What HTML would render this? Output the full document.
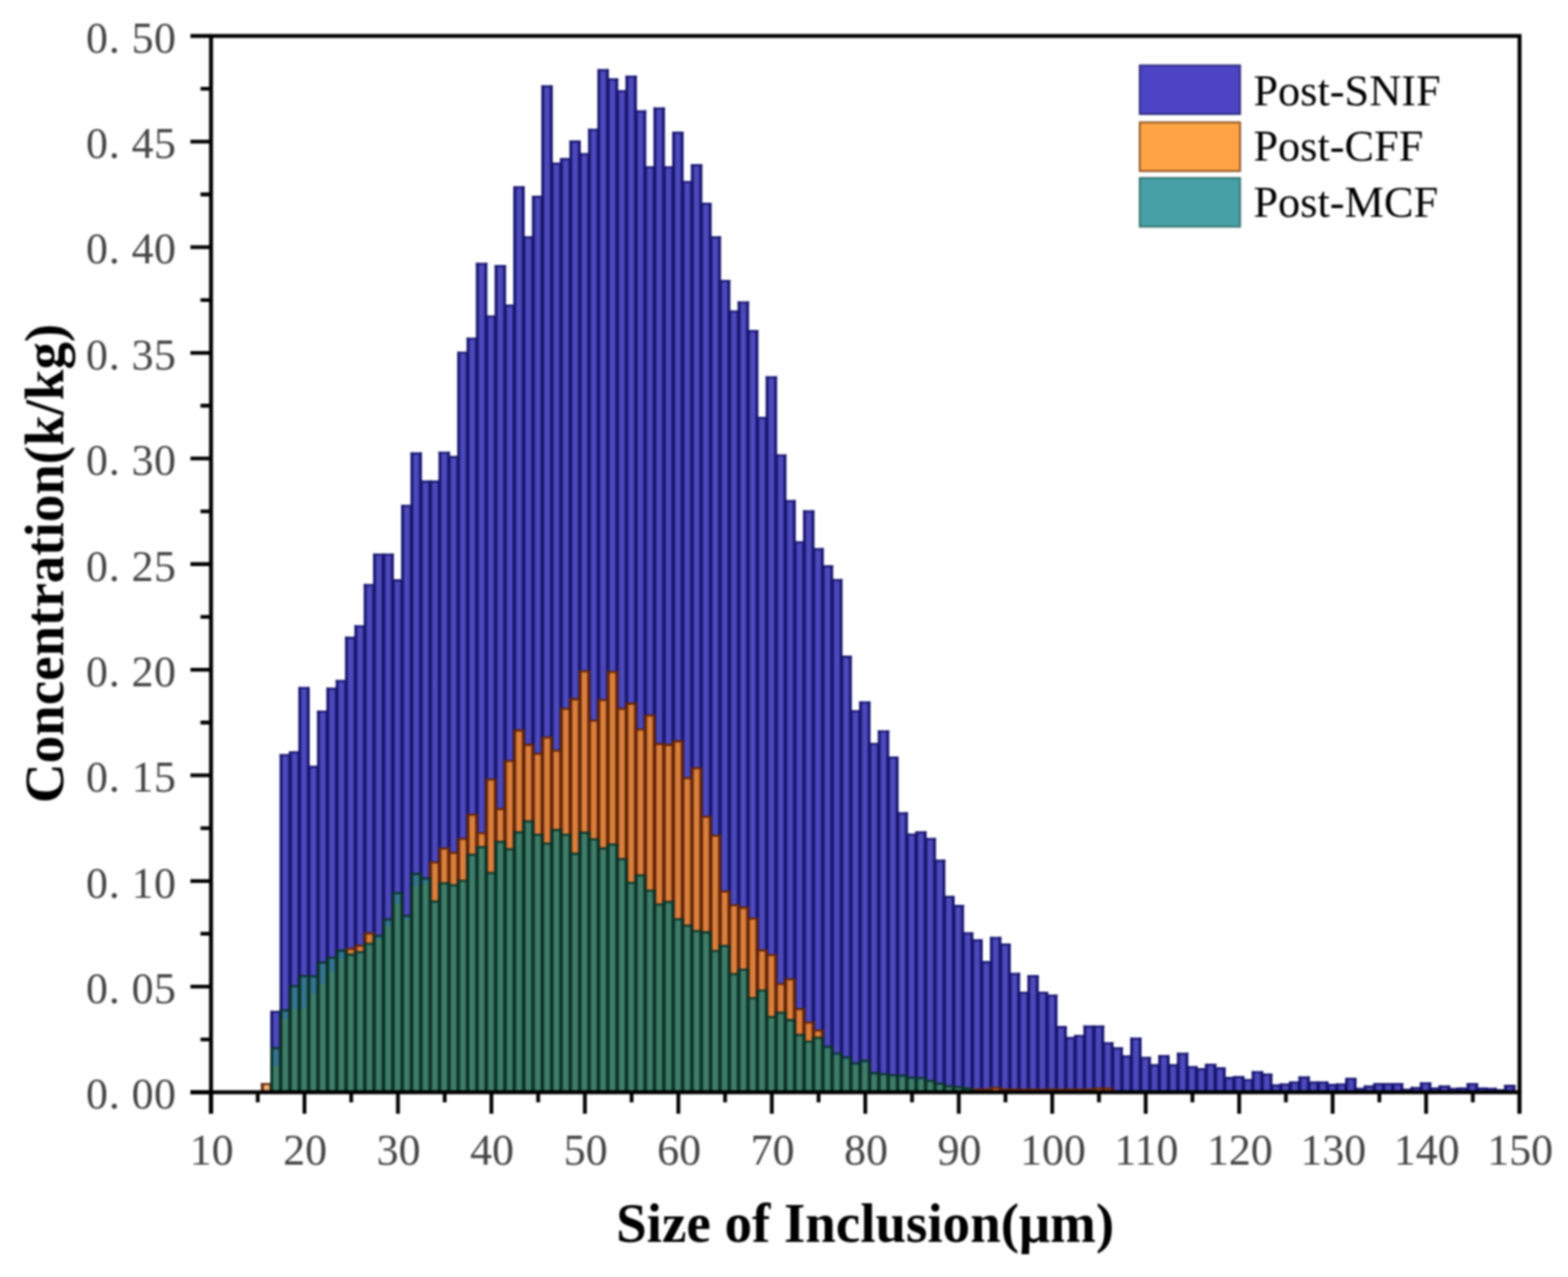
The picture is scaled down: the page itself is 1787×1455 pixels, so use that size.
<!DOCTYPE html>
<html lang="en">
<head>
<meta charset="utf-8">
<title>Inclusion size distribution</title>
<style>
html,body{margin:0;padding:0;background:#fff;}
body{width:1787px;height:1455px;overflow:hidden;}
svg{display:block;}
</style>
</head>
<body>
<svg width="1787" height="1455" viewBox="0 0 1787 1455">
<defs><filter id="soft" filterUnits="userSpaceOnUse" x="0" y="0" width="1787" height="1455" color-interpolation-filters="sRGB"><feGaussianBlur stdDeviation="0.85"/></filter></defs>
<rect width="1787" height="1455" fill="#fff"/>
<g filter="url(#soft)">
<rect width="1787" height="1455" fill="#fff"/>
<g id="bars">
<path d="M309.21 1244.5H319.86V1152.3H309.21ZM319.86 1244.5H330.51V859.8H319.86ZM330.51 1244.5H341.16V856.5H330.51ZM341.16 1244.5H351.81V783.4H341.16ZM351.81 1244.5H362.47V873.2H351.81ZM362.47 1244.5H373.12V810.3H362.47ZM373.12 1244.5H383.77V784.2H373.12ZM383.77 1244.5H394.42V775.3H383.77ZM394.42 1244.5H405.08V726.2H394.42ZM405.08 1244.5H415.73V713.1H405.08ZM415.73 1244.5H426.38V666.1H415.73ZM426.38 1244.5H437.03V631.3H426.38ZM437.03 1244.5H447.68V631.3H437.03ZM447.68 1244.5H458.34V660.7H447.68ZM458.34 1244.5H468.99V575.9H458.34ZM468.99 1244.5H479.64V516.2H468.99ZM479.64 1244.5H490.29V548.2H479.64ZM490.29 1244.5H500.94V548.2H490.29ZM500.94 1244.5H511.6V515.4H500.94ZM511.6 1244.5H522.25V520.2H511.6ZM522.25 1244.5H532.9V401.3H522.25ZM532.9 1244.5H543.55V385.3H532.9ZM543.55 1244.5H554.21V300H543.55ZM554.21 1244.5H564.86V360.1H554.21ZM564.86 1244.5H575.51V302.6H564.86ZM575.51 1244.5H586.16V347.6H575.51ZM586.16 1244.5H596.81V212.8H586.16ZM596.81 1244.5H607.47V269.8H596.81ZM607.47 1244.5H618.12V223.7H607.47ZM618.12 1244.5H628.77V97.8H618.12ZM628.77 1244.5H639.42V185.9H628.77ZM639.42 1244.5H650.07V180.5H639.42ZM650.07 1244.5H660.73V160.7H650.07ZM660.73 1244.5H671.38V175H660.73ZM671.38 1244.5H682.03V147.3H671.38ZM682.03 1244.5H692.68V79.3H682.03ZM692.68 1244.5H703.34V89.9H692.68ZM703.34 1244.5H713.99V103.3H703.34ZM713.99 1244.5H724.64V86.9H713.99ZM724.64 1244.5H735.29V126.3H724.64ZM735.29 1244.5H745.94V190.1H735.29ZM745.94 1244.5H756.6V123H745.94ZM756.6 1244.5H767.25V190.1H756.6ZM767.25 1244.5H777.9V150.6H767.25ZM777.9 1244.5H788.55V206.9H777.9ZM788.55 1244.5H799.2V187.6H788.55ZM799.2 1244.5H809.86V231.6H799.2ZM809.86 1244.5H820.51V269.8H809.86ZM820.51 1244.5H831.16V319.5H820.51ZM831.16 1244.5H841.81V354.4H831.16ZM841.81 1244.5H852.47V344H841.81ZM852.47 1244.5H863.12V376.6H852.47ZM863.12 1244.5H873.77V475.5H863.12ZM873.77 1244.5H884.42V429.4H873.77ZM884.42 1244.5H895.07V518.3H884.42ZM895.07 1244.5H905.73V570.4H895.07ZM905.73 1244.5H916.38V617.4H905.73ZM916.38 1244.5H927.03V582.1H916.38ZM927.03 1244.5H937.68V625H927.03ZM937.68 1244.5H948.33V644.5H937.68ZM948.33 1244.5H958.99V660.4H948.33ZM958.99 1244.5H969.64V747.7H958.99ZM969.64 1244.5H980.29V809.8H969.64ZM980.29 1244.5H990.94V799.8H980.29ZM990.94 1244.5H1001.6V847.1H990.94ZM1001.6 1244.5H1012.25V832.8H1001.6ZM1012.25 1244.5H1022.9V862.5H1012.25ZM1022.9 1244.5H1033.55V926H1022.9ZM1033.55 1244.5H1044.2V950.3H1033.55ZM1044.2 1244.5H1054.86V947.8H1044.2ZM1054.86 1244.5H1065.51V955.4H1054.86ZM1065.51 1244.5H1076.16V980.2H1065.51ZM1076.16 1244.5H1086.81V1021.3H1076.16ZM1086.81 1244.5H1097.46V1031.7H1086.81ZM1097.46 1244.5H1108.12V1062.9H1097.46ZM1108.12 1244.5H1118.77V1070.8H1108.12ZM1118.77 1244.5H1129.42V1095.7H1118.77ZM1129.42 1244.5H1140.07V1068H1129.42ZM1140.07 1244.5H1150.73V1075.5H1140.07ZM1150.73 1244.5H1161.38V1109.1H1150.73ZM1161.38 1244.5H1172.03V1130.6H1161.38ZM1172.03 1244.5H1182.68V1111.6H1172.03ZM1182.68 1244.5H1193.33V1130.6H1182.68ZM1193.33 1244.5H1203.99V1133.9H1193.33ZM1203.99 1244.5H1214.64V1169.5H1203.99ZM1214.64 1244.5H1225.29V1182.1H1214.64ZM1225.29 1244.5H1235.94V1179.9H1225.29ZM1235.94 1244.5H1246.59V1169.2H1235.94ZM1246.59 1244.5H1257.25V1169.2H1246.59ZM1257.25 1244.5H1267.9V1188H1257.25ZM1267.9 1244.5H1278.55V1193.9H1267.9ZM1278.55 1244.5H1289.2V1203.1H1278.55ZM1289.2 1244.5H1299.86V1182.9H1289.2ZM1299.86 1244.5H1310.51V1204.8H1299.86ZM1310.51 1244.5H1321.16V1213.2H1310.51ZM1321.16 1244.5H1331.81V1202.8H1321.16ZM1331.81 1244.5H1342.46V1213.2H1331.81ZM1342.46 1244.5H1353.12V1200H1342.46ZM1353.12 1244.5H1363.77V1215.4H1353.12ZM1363.77 1244.5H1374.42V1217.6H1363.77ZM1374.42 1244.5H1385.07V1212.6H1374.42ZM1385.07 1244.5H1395.72V1216.5H1385.07ZM1395.72 1244.5H1406.38V1227.7H1395.72ZM1406.38 1244.5H1417.03V1226.6H1406.38ZM1417.03 1244.5H1427.68V1230H1417.03ZM1427.68 1244.5H1438.33V1221H1427.68ZM1438.33 1244.5H1448.99V1223.8H1438.33ZM1448.99 1244.5H1459.64V1236.1H1448.99ZM1459.64 1244.5H1470.29V1235H1459.64ZM1470.29 1244.5H1480.94V1232.8H1470.29ZM1480.94 1244.5H1491.59V1227.2H1480.94ZM1491.59 1244.5H1502.25V1232.8H1491.59ZM1502.25 1244.5H1512.9V1232.8H1502.25ZM1512.9 1244.5H1523.55V1235.6H1512.9ZM1523.55 1244.5H1534.2V1235H1523.55ZM1534.2 1244.5H1544.85V1228.5H1534.2ZM1544.85 1244.5H1555.51V1240H1544.85ZM1555.51 1244.5H1566.16V1237.3H1555.51ZM1566.16 1244.5H1576.81V1234.5H1566.16ZM1576.81 1244.5H1587.46V1234.5H1576.81ZM1587.46 1244.5H1598.12V1234.5H1587.46ZM1598.12 1244.5H1608.77V1241H1598.12ZM1608.77 1244.5H1619.42V1239H1608.77ZM1619.42 1244.5H1630.07V1233.9H1619.42ZM1630.07 1244.5H1640.72V1239.5H1630.07ZM1640.72 1244.5H1651.38V1237.3H1640.72ZM1651.38 1244.5H1662.03V1240H1651.38ZM1662.03 1244.5H1672.68V1239.5H1662.03ZM1672.68 1244.5H1683.33V1234.5H1672.68ZM1683.33 1244.5H1693.98V1239.5H1683.33ZM1693.98 1244.5H1704.64V1240H1693.98ZM1704.64 1244.5H1715.29V1241.7H1704.64ZM1715.29 1244.5H1725.94V1236.7H1715.29Z" fill="#4d49ba"/>
<path d="M309.66 1244.5V1151.7M319.41 1244.5V1151.7M320.31 1244.5V859.2M330.06 1244.5V859.2M330.96 1244.5V855.9M340.71 1244.5V855.9M341.61 1244.5V782.8M351.36 1244.5V782.8M352.26 1244.5V872.6M362.02 1244.5V872.6M362.92 1244.5V809.7M372.67 1244.5V809.7M373.57 1244.5V783.6M383.32 1244.5V783.6M384.22 1244.5V774.7M393.97 1244.5V774.7M394.87 1244.5V725.6M404.63 1244.5V725.6M405.53 1244.5V712.5M415.28 1244.5V712.5M416.18 1244.5V665.5M425.93 1244.5V665.5M426.83 1244.5V630.7M436.58 1244.5V630.7M437.48 1244.5V630.7M447.23 1244.5V630.7M448.13 1244.5V660.1M457.89 1244.5V660.1M458.79 1244.5V575.3M468.54 1244.5V575.3M469.44 1244.5V515.6M479.19 1244.5V515.6M480.09 1244.5V547.6M489.84 1244.5V547.6M490.74 1244.5V547.6M500.49 1244.5V547.6M501.39 1244.5V514.8M511.15 1244.5V514.8M512.05 1244.5V519.6M521.8 1244.5V519.6M522.7 1244.5V400.7M532.45 1244.5V400.7M533.35 1244.5V384.7M543.1 1244.5V384.7M544 1244.5V299.4M553.76 1244.5V299.4M554.66 1244.5V359.5M564.41 1244.5V359.5M565.31 1244.5V302M575.06 1244.5V302M575.96 1244.5V347M585.71 1244.5V347M586.61 1244.5V212.2M596.36 1244.5V212.2M597.26 1244.5V269.2M607.02 1244.5V269.2M607.92 1244.5V223.1M617.67 1244.5V223.1M618.57 1244.5V97.2M628.32 1244.5V97.2M629.22 1244.5V185.3M638.97 1244.5V185.3M639.87 1244.5V179.9M649.62 1244.5V179.9M650.52 1244.5V160.1M660.28 1244.5V160.1M661.18 1244.5V174.4M670.93 1244.5V174.4M671.83 1244.5V146.7M681.58 1244.5V146.7M682.48 1244.5V78.7M692.23 1244.5V78.7M693.13 1244.5V89.3M702.89 1244.5V89.3M703.79 1244.5V102.7M713.54 1244.5V102.7M714.44 1244.5V86.3M724.19 1244.5V86.3M725.09 1244.5V125.7M734.84 1244.5V125.7M735.74 1244.5V189.5M745.49 1244.5V189.5M746.39 1244.5V122.4M756.15 1244.5V122.4M757.05 1244.5V189.5M766.8 1244.5V189.5M767.7 1244.5V150M777.45 1244.5V150M778.35 1244.5V206.3M788.1 1244.5V206.3M789 1244.5V187M798.75 1244.5V187M799.65 1244.5V231M809.41 1244.5V231M810.31 1244.5V269.2M820.06 1244.5V269.2M820.96 1244.5V318.9M830.71 1244.5V318.9M831.61 1244.5V353.8M841.36 1244.5V353.8M842.26 1244.5V343.4M852.02 1244.5V343.4M852.92 1244.5V376M862.67 1244.5V376M863.57 1244.5V474.9M873.32 1244.5V474.9M874.22 1244.5V428.8M883.97 1244.5V428.8M884.87 1244.5V517.7M894.62 1244.5V517.7M895.52 1244.5V569.8M905.28 1244.5V569.8M906.18 1244.5V616.8M915.93 1244.5V616.8M916.83 1244.5V581.5M926.58 1244.5V581.5M927.48 1244.5V624.4M937.23 1244.5V624.4M938.13 1244.5V643.9M947.88 1244.5V643.9M948.78 1244.5V659.8M958.54 1244.5V659.8M959.44 1244.5V747.1M969.19 1244.5V747.1M970.09 1244.5V809.2M979.84 1244.5V809.2M980.74 1244.5V799.2M990.49 1244.5V799.2M991.39 1244.5V846.5M1001.15 1244.5V846.5M1002.05 1244.5V832.2M1011.8 1244.5V832.2M1012.7 1244.5V861.9M1022.45 1244.5V861.9M1023.35 1244.5V925.4M1033.1 1244.5V925.4M1034 1244.5V949.7M1043.75 1244.5V949.7M1044.65 1244.5V947.2M1054.41 1244.5V947.2M1055.31 1244.5V954.8M1065.06 1244.5V954.8M1065.96 1244.5V979.6M1075.71 1244.5V979.6M1076.61 1244.5V1020.7M1086.36 1244.5V1020.7M1087.26 1244.5V1031.1M1097.01 1244.5V1031.1M1097.91 1244.5V1062.3M1107.67 1244.5V1062.3M1108.57 1244.5V1070.2M1118.32 1244.5V1070.2M1119.22 1244.5V1095.1M1128.97 1244.5V1095.1M1129.87 1244.5V1067.4M1139.62 1244.5V1067.4M1140.52 1244.5V1074.9M1150.28 1244.5V1074.9M1151.18 1244.5V1108.5M1160.93 1244.5V1108.5M1161.83 1244.5V1130M1171.58 1244.5V1130M1172.48 1244.5V1111M1182.23 1244.5V1111M1183.13 1244.5V1130M1192.88 1244.5V1130M1193.78 1244.5V1133.3M1203.54 1244.5V1133.3M1204.44 1244.5V1168.9M1214.19 1244.5V1168.9M1215.09 1244.5V1181.5M1224.84 1244.5V1181.5M1225.74 1244.5V1179.3M1235.49 1244.5V1179.3M1236.39 1244.5V1168.6M1246.14 1244.5V1168.6M1247.04 1244.5V1168.6M1256.8 1244.5V1168.6M1257.7 1244.5V1187.4M1267.45 1244.5V1187.4M1268.35 1244.5V1193.3M1278.1 1244.5V1193.3M1279 1244.5V1202.5M1288.75 1244.5V1202.5M1289.65 1244.5V1182.3M1299.41 1244.5V1182.3M1300.31 1244.5V1204.2M1310.06 1244.5V1204.2M1310.96 1244.5V1212.6M1320.71 1244.5V1212.6M1321.61 1244.5V1202.2M1331.36 1244.5V1202.2M1332.26 1244.5V1212.6M1342.01 1244.5V1212.6M1342.91 1244.5V1199.4M1352.67 1244.5V1199.4M1353.57 1244.5V1214.8M1363.32 1244.5V1214.8M1364.22 1244.5V1217M1373.97 1244.5V1217M1374.87 1244.5V1212M1384.62 1244.5V1212M1385.52 1244.5V1215.9M1395.27 1244.5V1215.9M1396.17 1244.5V1227.1M1405.93 1244.5V1227.1M1406.83 1244.5V1226M1416.58 1244.5V1226M1417.48 1244.5V1229.4M1427.23 1244.5V1229.4M1428.13 1244.5V1220.4M1437.88 1244.5V1220.4M1438.78 1244.5V1223.2M1448.54 1244.5V1223.2M1449.44 1244.5V1235.5M1459.19 1244.5V1235.5M1460.09 1244.5V1234.4M1469.84 1244.5V1234.4M1470.74 1244.5V1232.2M1480.49 1244.5V1232.2M1481.39 1244.5V1226.6M1491.14 1244.5V1226.6M1492.04 1244.5V1232.2M1501.8 1244.5V1232.2M1502.7 1244.5V1232.2M1512.45 1244.5V1232.2M1513.35 1244.5V1235M1523.1 1244.5V1235M1524 1244.5V1234.4M1533.75 1244.5V1234.4M1534.65 1244.5V1227.9M1544.4 1244.5V1227.9M1545.3 1244.5V1239.4M1555.06 1244.5V1239.4M1555.96 1244.5V1236.7M1565.71 1244.5V1236.7M1566.61 1244.5V1233.9M1576.36 1244.5V1233.9M1577.26 1244.5V1233.9M1587.01 1244.5V1233.9M1587.91 1244.5V1233.9M1597.67 1244.5V1233.9M1598.57 1244.5V1240.4M1608.32 1244.5V1240.4M1609.22 1244.5V1238.4M1618.97 1244.5V1238.4M1619.87 1244.5V1233.3M1629.62 1244.5V1233.3M1630.52 1244.5V1238.9M1640.27 1244.5V1238.9M1641.17 1244.5V1236.7M1650.93 1244.5V1236.7M1651.83 1244.5V1239.4M1661.58 1244.5V1239.4M1662.48 1244.5V1238.9M1672.23 1244.5V1238.9M1673.13 1244.5V1233.9M1682.88 1244.5V1233.9M1683.78 1244.5V1238.9M1693.53 1244.5V1238.9M1694.43 1244.5V1239.4M1704.19 1244.5V1239.4M1705.09 1244.5V1241.1M1714.84 1244.5V1241.1M1715.74 1244.5V1236.1M1725.49 1244.5V1236.1" fill="none" stroke="#181670" stroke-width="3.3"/>
<path d="M308.01 1152.85H321.06M318.66 860.35H331.71M329.31 857.05H342.36M339.96 783.95H353.01M350.61 873.75H363.67M361.27 810.85H374.32M371.92 784.75H384.97M382.57 775.85H395.62M393.22 726.75H406.28M403.88 713.65H416.93M414.53 666.65H427.58M425.18 631.85H438.23M435.83 631.85H448.88M446.48 661.25H459.54M457.14 576.45H470.19M467.79 516.75H480.84M478.44 548.75H491.49M489.09 548.75H502.14M499.74 515.95H512.8M510.4 520.75H523.45M521.05 401.85H534.1M531.7 385.85H544.75M542.35 300.55H555.41M553.01 360.65H566.06M563.66 303.15H576.71M574.31 348.15H587.36M584.96 213.35H598.01M595.61 270.35H608.67M606.27 224.25H619.32M616.92 98.35H629.97M627.57 186.45H640.62M638.22 181.05H651.27M648.87 161.25H661.93M659.53 175.55H672.58M670.18 147.85H683.23M680.83 79.85H693.88M691.48 90.45H704.54M702.14 103.85H715.19M712.79 87.45H725.84M723.44 126.85H736.49M734.09 190.65H747.14M744.74 123.55H757.8M755.4 190.65H768.45M766.05 151.15H779.1M776.7 207.45H789.75M787.35 188.15H800.4M798 232.15H811.06M808.66 270.35H821.71M819.31 320.05H832.36M829.96 354.95H843.01M840.61 344.55H853.67M851.27 377.15H864.32M861.92 476.05H874.97M872.57 429.95H885.62M883.22 518.85H896.27M893.87 570.95H906.93M904.53 617.95H917.58M915.18 582.65H928.23M925.83 625.55H938.88M936.48 645.05H949.53M947.13 660.95H960.19M957.79 748.25H970.84M968.44 810.35H981.49M979.09 800.35H992.14M989.74 847.65H1002.8M1000.4 833.35H1013.45M1011.05 863.05H1024.1M1021.7 926.55H1034.75M1032.35 950.85H1045.4M1043 948.35H1056.06M1053.66 955.95H1066.71M1064.31 980.75H1077.36M1074.96 1021.85H1088.01M1085.61 1032.25H1098.66M1096.26 1063.45H1109.32M1106.92 1071.35H1119.97M1117.57 1096.25H1130.62M1128.22 1068.55H1141.27M1138.87 1076.05H1151.93M1149.53 1109.65H1162.58M1160.18 1131.15H1173.23M1170.83 1112.15H1183.88M1181.48 1131.15H1194.53M1192.13 1134.45H1205.19M1202.79 1170.05H1215.84M1213.44 1182.65H1226.49M1224.09 1180.45H1237.14M1234.74 1169.75H1247.79M1245.39 1169.75H1258.45M1256.05 1188.55H1269.1M1266.7 1194.45H1279.75M1277.35 1203.65H1290.4M1288 1183.45H1301.06M1298.66 1205.35H1311.71M1309.31 1213.75H1322.36M1319.96 1203.35H1333.01M1330.61 1213.75H1343.66M1341.26 1200.55H1354.32M1351.92 1215.95H1364.97M1362.57 1218.15H1375.62M1373.22 1213.15H1386.27M1383.87 1217.05H1396.92M1394.52 1228.25H1407.58M1405.18 1227.15H1418.23M1415.83 1230.55H1428.88M1426.48 1221.55H1439.53M1437.13 1224.35H1450.19M1447.79 1236.65H1460.84M1458.44 1235.55H1471.49M1469.09 1233.35H1482.14M1479.74 1227.75H1492.79M1490.39 1233.35H1503.45M1501.05 1233.35H1514.1M1511.7 1236.15H1524.75M1522.35 1235.55H1535.4M1533 1229.05H1546.05M1543.65 1240.55H1556.71M1554.31 1237.85H1567.36M1564.96 1235.05H1578.01M1575.61 1235.05H1588.66M1586.26 1235.05H1599.32M1596.92 1241.55H1609.97M1607.57 1239.55H1620.62M1618.22 1234.45H1631.27M1628.87 1240.05H1641.92M1639.52 1237.85H1652.58M1650.18 1240.55H1663.23M1660.83 1240.05H1673.88M1671.48 1235.05H1684.53M1682.13 1240.05H1695.18M1692.78 1240.55H1705.84M1703.44 1242.25H1716.49M1714.09 1237.25H1727.14" fill="none" stroke="#181670" stroke-width="2.3"/>
<path d="M298.55 1244.5H309.21V1234.5H298.55ZM309.21 1244.5H319.86V1215H309.21ZM319.86 1244.5H330.51V1161H319.86ZM330.51 1244.5H341.16V1150H330.51ZM341.16 1244.5H351.81V1148H341.16ZM351.81 1244.5H362.47V1132H351.81ZM362.47 1244.5H373.12V1121H362.47ZM373.12 1244.5H383.77V1107H373.12ZM383.77 1244.5H394.42V1093H383.77ZM394.42 1244.5H405.08V1080.5H394.42ZM405.08 1244.5H415.73V1077H405.08ZM415.73 1244.5H426.38V1063.1H415.73ZM426.38 1244.5H437.03V1070H426.38ZM437.03 1244.5H447.68V1055H437.03ZM447.68 1244.5H458.34V1030H447.68ZM458.34 1244.5H468.99V1048H458.34ZM468.99 1244.5H479.64V1010H468.99ZM479.64 1244.5H490.29V1006H479.64ZM490.29 1244.5H500.94V982H490.29ZM500.94 1244.5H511.6V966.4H500.94ZM511.6 1244.5H522.25V971.4H511.6ZM522.25 1244.5H532.9V955.3H522.25ZM532.9 1244.5H543.55V927.7H532.9ZM543.55 1244.5H554.21V948.8H543.55ZM554.21 1244.5H564.86V887.6H554.21ZM564.86 1244.5H575.51V921.2H564.86ZM575.51 1244.5H586.16V866.6H575.51ZM586.16 1244.5H596.81V831.7H586.16ZM596.81 1244.5H607.47V848.2H596.81ZM607.47 1244.5H618.12V858.3H607.47ZM618.12 1244.5H628.77V839.8H618.12ZM628.77 1244.5H639.42V854.9H628.77ZM639.42 1244.5H650.07V807.1H639.42ZM650.07 1244.5H660.73V796.2H650.07ZM660.73 1244.5H671.38V764.3H660.73ZM671.38 1244.5H682.03V820.5H671.38ZM682.03 1244.5H692.68V797H682.03ZM692.68 1244.5H703.34V765.1H692.68ZM703.34 1244.5H713.99V807.1H703.34ZM713.99 1244.5H724.64V801.2H713.99ZM724.64 1244.5H735.29V830.6H724.64ZM735.29 1244.5H745.94V814.6H735.29ZM745.94 1244.5H756.6V847.2H745.94ZM756.6 1244.5H767.25V848.2H756.6ZM767.25 1244.5H777.9V844.2H767.25ZM777.9 1244.5H788.55V886.1H777.9ZM788.55 1244.5H799.2V874.9H788.55ZM799.2 1244.5H809.86V930H799.2ZM809.86 1244.5H820.51V951.6H809.86ZM820.51 1244.5H831.16V1015.3H820.51ZM831.16 1244.5H841.81V1030.9H831.16ZM841.81 1244.5H852.47V1033.7H841.81ZM852.47 1244.5H863.12V1046H852.47ZM863.12 1244.5H873.77V1082.4H863.12ZM873.77 1244.5H884.42V1087.5H873.77ZM884.42 1244.5H895.07V1120.6H884.42ZM895.07 1244.5H905.73V1115.3H895.07ZM905.73 1244.5H916.38V1149.3H905.73ZM916.38 1244.5H927.03V1164.5H916.38ZM927.03 1244.5H937.68V1173.5H927.03ZM937.68 1244.5H948.33V1195H937.68ZM948.33 1244.5H958.99V1203H948.33ZM958.99 1244.5H969.64V1208H958.99ZM969.64 1244.5H980.29V1214H969.64ZM980.29 1244.5H990.94V1212H980.29ZM990.94 1244.5H1001.6V1225H990.94ZM1001.6 1244.5H1012.25V1226H1001.6ZM1012.25 1244.5H1022.9V1227H1012.25ZM1022.9 1244.5H1033.55V1228H1022.9ZM1033.55 1244.5H1044.2V1230H1033.55ZM1044.2 1244.5H1054.86V1231H1044.2ZM1054.86 1244.5H1065.51V1233H1054.86ZM1065.51 1244.5H1076.16V1236H1065.51ZM1076.16 1244.5H1086.81V1238H1076.16ZM1086.81 1244.5H1097.46V1239H1086.81ZM1097.46 1244.5H1108.12V1241H1097.46ZM1108.12 1244.5H1118.77V1240.8H1108.12ZM1118.77 1244.5H1129.42V1240.8H1118.77ZM1129.42 1244.5H1140.07V1239H1129.42ZM1140.07 1244.5H1150.73V1240.8H1140.07ZM1150.73 1244.5H1161.38V1240.8H1150.73ZM1161.38 1244.5H1172.03V1241H1161.38ZM1172.03 1244.5H1182.68V1240.8H1172.03ZM1182.68 1244.5H1193.33V1241H1182.68ZM1193.33 1244.5H1203.99V1240.8H1193.33ZM1203.99 1244.5H1214.64V1241H1203.99ZM1214.64 1244.5H1225.29V1240.8H1214.64ZM1225.29 1244.5H1235.94V1240.8H1225.29ZM1235.94 1244.5H1246.59V1240.8H1235.94ZM1246.59 1244.5H1257.25V1239.8H1246.59ZM1257.25 1244.5H1267.9V1239.8H1257.25Z" fill="#da803e"/>
<path d="M298.55 1244.5H309.21V1234.5H298.55Z" fill="#e9b27a"/>
<path d="M299 1244.5V1233.9M308.76 1244.5V1233.9M309.66 1244.5V1214.4M319.41 1244.5V1214.4M320.31 1244.5V1160.4M330.06 1244.5V1160.4M330.96 1244.5V1149.4M340.71 1244.5V1149.4M341.61 1244.5V1147.4M351.36 1244.5V1147.4M352.26 1244.5V1131.4M362.02 1244.5V1131.4M362.92 1244.5V1120.4M372.67 1244.5V1120.4M373.57 1244.5V1106.4M383.32 1244.5V1106.4M384.22 1244.5V1092.4M393.97 1244.5V1092.4M394.87 1244.5V1079.9M404.63 1244.5V1079.9M405.53 1244.5V1076.4M415.28 1244.5V1076.4M416.18 1244.5V1062.5M425.93 1244.5V1062.5M426.83 1244.5V1069.4M436.58 1244.5V1069.4M437.48 1244.5V1054.4M447.23 1244.5V1054.4M448.13 1244.5V1029.4M457.89 1244.5V1029.4M458.79 1244.5V1047.4M468.54 1244.5V1047.4M469.44 1244.5V1009.4M479.19 1244.5V1009.4M480.09 1244.5V1005.4M489.84 1244.5V1005.4M490.74 1244.5V981.4M500.49 1244.5V981.4M501.39 1244.5V965.8M511.15 1244.5V965.8M512.05 1244.5V970.8M521.8 1244.5V970.8M522.7 1244.5V954.7M532.45 1244.5V954.7M533.35 1244.5V927.1M543.1 1244.5V927.1M544 1244.5V948.2M553.76 1244.5V948.2M554.66 1244.5V887M564.41 1244.5V887M565.31 1244.5V920.6M575.06 1244.5V920.6M575.96 1244.5V866M585.71 1244.5V866M586.61 1244.5V831.1M596.36 1244.5V831.1M597.26 1244.5V847.6M607.02 1244.5V847.6M607.92 1244.5V857.7M617.67 1244.5V857.7M618.57 1244.5V839.2M628.32 1244.5V839.2M629.22 1244.5V854.3M638.97 1244.5V854.3M639.87 1244.5V806.5M649.62 1244.5V806.5M650.52 1244.5V795.6M660.28 1244.5V795.6M661.18 1244.5V763.7M670.93 1244.5V763.7M671.83 1244.5V819.9M681.58 1244.5V819.9M682.48 1244.5V796.4M692.23 1244.5V796.4M693.13 1244.5V764.5M702.89 1244.5V764.5M703.79 1244.5V806.5M713.54 1244.5V806.5M714.44 1244.5V800.6M724.19 1244.5V800.6M725.09 1244.5V830M734.84 1244.5V830M735.74 1244.5V814M745.49 1244.5V814M746.39 1244.5V846.6M756.15 1244.5V846.6M757.05 1244.5V847.6M766.8 1244.5V847.6M767.7 1244.5V843.6M777.45 1244.5V843.6M778.35 1244.5V885.5M788.1 1244.5V885.5M789 1244.5V874.3M798.75 1244.5V874.3M799.65 1244.5V929.4M809.41 1244.5V929.4M810.31 1244.5V951M820.06 1244.5V951M820.96 1244.5V1014.7M830.71 1244.5V1014.7M831.61 1244.5V1030.3M841.36 1244.5V1030.3M842.26 1244.5V1033.1M852.02 1244.5V1033.1M852.92 1244.5V1045.4M862.67 1244.5V1045.4M863.57 1244.5V1081.8M873.32 1244.5V1081.8M874.22 1244.5V1086.9M883.97 1244.5V1086.9M884.87 1244.5V1120M894.62 1244.5V1120M895.52 1244.5V1114.7M905.28 1244.5V1114.7M906.18 1244.5V1148.7M915.93 1244.5V1148.7M916.83 1244.5V1163.9M926.58 1244.5V1163.9M927.48 1244.5V1172.9M937.23 1244.5V1172.9M938.13 1244.5V1194.4M947.88 1244.5V1194.4M948.78 1244.5V1202.4M958.54 1244.5V1202.4M959.44 1244.5V1207.4M969.19 1244.5V1207.4M970.09 1244.5V1213.4M979.84 1244.5V1213.4M980.74 1244.5V1211.4M990.49 1244.5V1211.4M991.39 1244.5V1224.4M1001.15 1244.5V1224.4M1002.05 1244.5V1225.4M1011.8 1244.5V1225.4M1012.7 1244.5V1226.4M1022.45 1244.5V1226.4M1023.35 1244.5V1227.4M1033.1 1244.5V1227.4M1034 1244.5V1229.4M1043.75 1244.5V1229.4M1044.65 1244.5V1230.4M1054.41 1244.5V1230.4M1055.31 1244.5V1232.4M1065.06 1244.5V1232.4M1065.96 1244.5V1235.4M1075.71 1244.5V1235.4M1076.61 1244.5V1237.4M1086.36 1244.5V1237.4M1087.26 1244.5V1238.4M1097.01 1244.5V1238.4M1097.91 1244.5V1240.4M1107.67 1244.5V1240.4M1108.57 1244.5V1240.2M1118.32 1244.5V1240.2M1119.22 1244.5V1240.2M1128.97 1244.5V1240.2M1129.87 1244.5V1238.4M1139.62 1244.5V1238.4M1140.52 1244.5V1240.2M1150.28 1244.5V1240.2M1151.18 1244.5V1240.2M1160.93 1244.5V1240.2M1161.83 1244.5V1240.4M1171.58 1244.5V1240.4M1172.48 1244.5V1240.2M1182.23 1244.5V1240.2M1183.13 1244.5V1240.4M1192.88 1244.5V1240.4M1193.78 1244.5V1240.2M1203.54 1244.5V1240.2M1204.44 1244.5V1240.4M1214.19 1244.5V1240.4M1215.09 1244.5V1240.2M1224.84 1244.5V1240.2M1225.74 1244.5V1240.2M1235.49 1244.5V1240.2M1236.39 1244.5V1240.2M1246.14 1244.5V1240.2M1247.04 1244.5V1239.2M1256.8 1244.5V1239.2M1257.7 1244.5V1239.2M1267.45 1244.5V1239.2" fill="none" stroke="#642506" stroke-width="3.3"/>
<path d="M297.35 1235.05H310.41M308.01 1215.55H321.06M318.66 1161.55H331.71M329.31 1150.55H342.36M339.96 1148.55H353.01M350.61 1132.55H363.67M361.27 1121.55H374.32M371.92 1107.55H384.97M382.57 1093.55H395.62M393.22 1081.05H406.28M403.88 1077.55H416.93M414.53 1063.65H427.58M425.18 1070.55H438.23M435.83 1055.55H448.88M446.48 1030.55H459.54M457.14 1048.55H470.19M467.79 1010.55H480.84M478.44 1006.55H491.49M489.09 982.55H502.14M499.74 966.95H512.8M510.4 971.95H523.45M521.05 955.85H534.1M531.7 928.25H544.75M542.35 949.35H555.41M553.01 888.15H566.06M563.66 921.75H576.71M574.31 867.15H587.36M584.96 832.25H598.01M595.61 848.75H608.67M606.27 858.85H619.32M616.92 840.35H629.97M627.57 855.45H640.62M638.22 807.65H651.27M648.87 796.75H661.93M659.53 764.85H672.58M670.18 821.05H683.23M680.83 797.55H693.88M691.48 765.65H704.54M702.14 807.65H715.19M712.79 801.75H725.84M723.44 831.15H736.49M734.09 815.15H747.14M744.74 847.75H757.8M755.4 848.75H768.45M766.05 844.75H779.1M776.7 886.65H789.75M787.35 875.45H800.4M798 930.55H811.06M808.66 952.15H821.71M819.31 1015.85H832.36M829.96 1031.45H843.01M840.61 1034.25H853.67M851.27 1046.55H864.32M861.92 1082.95H874.97M872.57 1088.05H885.62M883.22 1121.15H896.27M893.87 1115.85H906.93M904.53 1149.85H917.58M915.18 1165.05H928.23M925.83 1174.05H938.88M936.48 1195.55H949.53M947.13 1203.55H960.19M957.79 1208.55H970.84M968.44 1214.55H981.49M979.09 1212.55H992.14M989.74 1225.55H1002.8M1000.4 1226.55H1013.45M1011.05 1227.55H1024.1M1021.7 1228.55H1034.75M1032.35 1230.55H1045.4M1043 1231.55H1056.06M1053.66 1233.55H1066.71M1064.31 1236.55H1077.36M1074.96 1238.55H1088.01M1085.61 1239.55H1098.66M1096.26 1241.55H1109.32M1106.92 1241.35H1119.97M1117.57 1241.35H1130.62M1128.22 1239.55H1141.27M1138.87 1241.35H1151.93M1149.53 1241.35H1162.58M1160.18 1241.55H1173.23M1170.83 1241.35H1183.88M1181.48 1241.55H1194.53M1192.13 1241.35H1205.19M1202.79 1241.55H1215.84M1213.44 1241.35H1226.49M1224.09 1241.35H1237.14M1234.74 1241.35H1247.79M1245.39 1240.35H1258.45M1256.05 1240.35H1269.1" fill="none" stroke="#642506" stroke-width="2.3"/>
<path d="M309.21 1244.5H319.86V1193.8H309.21ZM319.86 1244.5H330.51V1150.5H319.86ZM330.51 1244.5H341.16V1123H330.51ZM341.16 1244.5H351.81V1111.6H341.16ZM351.81 1244.5H362.47V1111.9H351.81ZM362.47 1244.5H373.12V1096.2H362.47ZM373.12 1244.5H383.77V1090.6H373.12ZM383.77 1244.5H394.42V1082.7H383.77ZM394.42 1244.5H405.08V1087.2H394.42ZM405.08 1244.5H415.73V1084.4H405.08ZM415.73 1244.5H426.38V1074.9H415.73ZM426.38 1244.5H437.03V1065.9H426.38ZM437.03 1244.5H447.68V1047.1H437.03ZM447.68 1244.5H458.34V1017.1H447.68ZM458.34 1244.5H468.99V1043H458.34ZM468.99 1244.5H479.64V995.2H468.99ZM479.64 1244.5H490.29V1000.3H479.64ZM490.29 1244.5H500.94V1026.6H490.29ZM500.94 1244.5H511.6V1005.9H500.94ZM511.6 1244.5H522.25V1008.1H511.6ZM522.25 1244.5H532.9V1003.1H522.25ZM532.9 1244.5H543.55V973.4H532.9ZM543.55 1244.5H554.21V964.6H543.55ZM554.21 1244.5H564.86V994.1H554.21ZM564.86 1244.5H575.51V958.5H564.86ZM575.51 1244.5H586.16V967H575.51ZM586.16 1244.5H596.81V947.8H586.16ZM596.81 1244.5H607.47V935.3H596.81ZM607.47 1244.5H618.12V950.6H607.47ZM618.12 1244.5H628.77V960.5H618.12ZM628.77 1244.5H639.42V945.2H628.77ZM639.42 1244.5H650.07V950.5H639.42ZM650.07 1244.5H660.73V972.2H650.07ZM660.73 1244.5H671.38V948.2H660.73ZM671.38 1244.5H682.03V955.8H671.38ZM682.03 1244.5H692.68V966.2H682.03ZM692.68 1244.5H703.34V961.6H692.68ZM703.34 1244.5H713.99V978.4H703.34ZM713.99 1244.5H724.64V1005.3H713.99ZM724.64 1244.5H735.29V996.9H724.64ZM735.29 1244.5H745.94V1014.3H735.29ZM745.94 1244.5H756.6V1030H745.94ZM756.6 1244.5H767.25V1027.2H756.6ZM767.25 1244.5H777.9V1046.8H767.25ZM777.9 1244.5H788.55V1054.1H777.9ZM788.55 1244.5H799.2V1060.4H788.55ZM799.2 1244.5H809.86V1061.7H799.2ZM809.86 1244.5H820.51V1083H809.86ZM820.51 1244.5H831.16V1077.4H820.51ZM831.16 1244.5H841.81V1109.3H831.16ZM841.81 1244.5H852.47V1104.3H841.81ZM852.47 1244.5H863.12V1136.8H852.47ZM863.12 1244.5H873.77V1128H863.12ZM873.77 1244.5H884.42V1158.3H873.77ZM884.42 1244.5H895.07V1153.3H884.42ZM895.07 1244.5H905.73V1161.7H895.07ZM905.73 1244.5H916.38V1178.5H905.73ZM916.38 1244.5H927.03V1186.4H916.38ZM927.03 1244.5H937.68V1181.9H927.03ZM937.68 1244.5H948.33V1192H937.68ZM948.33 1244.5H958.99V1199.8H948.33ZM958.99 1244.5H969.64V1204.3H958.99ZM969.64 1244.5H980.29V1211H969.64ZM980.29 1244.5H990.94V1208.2H980.29ZM990.94 1244.5H1001.6V1222.2H990.94ZM1001.6 1244.5H1012.25V1223.3H1001.6ZM1012.25 1244.5H1022.9V1224.5H1012.25ZM1022.9 1244.5H1033.55V1225H1022.9ZM1033.55 1244.5H1044.2V1227.3H1033.55ZM1044.2 1244.5H1054.86V1227.5H1044.2ZM1054.86 1244.5H1065.51V1231H1054.86ZM1065.51 1244.5H1076.16V1234.3H1065.51ZM1076.16 1244.5H1086.81V1237H1076.16ZM1086.81 1244.5H1097.46V1238H1086.81ZM1097.46 1244.5H1108.12V1239.7H1097.46Z" fill="#407d69"/>
<path d="M309.21 1215H319.86V1193.8H309.21ZM319.86 1161H330.51V1150.5H319.86ZM330.51 1150H341.16V1123H330.51ZM341.16 1148H351.81V1111.6H341.16ZM351.81 1132H362.47V1111.9H351.81ZM362.47 1121H373.12V1096.2H362.47ZM373.12 1107H383.77V1090.6H373.12ZM383.77 1093H394.42V1082.7H383.77ZM426.38 1070H437.03V1065.9H426.38ZM437.03 1055H447.68V1047.1H437.03ZM447.68 1030H458.34V1017.1H447.68ZM458.34 1048H468.99V1043H458.34ZM468.99 1010H479.64V995.2H468.99ZM479.64 1006H490.29V1000.3H479.64ZM937.68 1195H948.33V1192H937.68ZM948.33 1203H958.99V1199.8H948.33ZM958.99 1208H969.64V1204.3H958.99ZM969.64 1214H980.29V1211H969.64ZM980.29 1212H990.94V1208.2H980.29ZM990.94 1225H1001.6V1222.2H990.94ZM1001.6 1226H1012.25V1223.3H1001.6ZM1012.25 1227H1022.9V1224.5H1012.25ZM1022.9 1228H1033.55V1225H1022.9ZM1033.55 1230H1044.2V1227.3H1033.55ZM1044.2 1231H1054.86V1227.5H1044.2ZM1054.86 1233H1065.51V1231H1054.86ZM1065.51 1236H1076.16V1234.3H1065.51ZM1076.16 1238H1086.81V1237H1076.16ZM1086.81 1239H1097.46V1238H1086.81ZM1097.46 1241H1108.12V1239.7H1097.46Z" fill="#33748f"/>
<path d="M309.66 1244.5V1193.2M319.41 1244.5V1193.2M320.31 1244.5V1149.9M330.06 1244.5V1149.9M330.96 1244.5V1122.4M340.71 1244.5V1122.4M341.61 1244.5V1111M351.36 1244.5V1111M352.26 1244.5V1111.3M362.02 1244.5V1111.3M362.92 1244.5V1095.6M372.67 1244.5V1095.6M373.57 1244.5V1090M383.32 1244.5V1090M384.22 1244.5V1082.1M393.97 1244.5V1082.1M394.87 1244.5V1086.6M404.63 1244.5V1086.6M405.53 1244.5V1083.8M415.28 1244.5V1083.8M416.18 1244.5V1074.3M425.93 1244.5V1074.3M426.83 1244.5V1065.3M436.58 1244.5V1065.3M437.48 1244.5V1046.5M447.23 1244.5V1046.5M448.13 1244.5V1016.5M457.89 1244.5V1016.5M458.79 1244.5V1042.4M468.54 1244.5V1042.4M469.44 1244.5V994.6M479.19 1244.5V994.6M480.09 1244.5V999.7M489.84 1244.5V999.7M490.74 1244.5V1026M500.49 1244.5V1026M501.39 1244.5V1005.3M511.15 1244.5V1005.3M512.05 1244.5V1007.5M521.8 1244.5V1007.5M522.7 1244.5V1002.5M532.45 1244.5V1002.5M533.35 1244.5V972.8M543.1 1244.5V972.8M544 1244.5V964M553.76 1244.5V964M554.66 1244.5V993.5M564.41 1244.5V993.5M565.31 1244.5V957.9M575.06 1244.5V957.9M575.96 1244.5V966.4M585.71 1244.5V966.4M586.61 1244.5V947.2M596.36 1244.5V947.2M597.26 1244.5V934.7M607.02 1244.5V934.7M607.92 1244.5V950M617.67 1244.5V950M618.57 1244.5V959.9M628.32 1244.5V959.9M629.22 1244.5V944.6M638.97 1244.5V944.6M639.87 1244.5V949.9M649.62 1244.5V949.9M650.52 1244.5V971.6M660.28 1244.5V971.6M661.18 1244.5V947.6M670.93 1244.5V947.6M671.83 1244.5V955.2M681.58 1244.5V955.2M682.48 1244.5V965.6M692.23 1244.5V965.6M693.13 1244.5V961M702.89 1244.5V961M703.79 1244.5V977.8M713.54 1244.5V977.8M714.44 1244.5V1004.7M724.19 1244.5V1004.7M725.09 1244.5V996.3M734.84 1244.5V996.3M735.74 1244.5V1013.7M745.49 1244.5V1013.7M746.39 1244.5V1029.4M756.15 1244.5V1029.4M757.05 1244.5V1026.6M766.8 1244.5V1026.6M767.7 1244.5V1046.2M777.45 1244.5V1046.2M778.35 1244.5V1053.5M788.1 1244.5V1053.5M789 1244.5V1059.8M798.75 1244.5V1059.8M799.65 1244.5V1061.1M809.41 1244.5V1061.1M810.31 1244.5V1082.4M820.06 1244.5V1082.4M820.96 1244.5V1076.8M830.71 1244.5V1076.8M831.61 1244.5V1108.7M841.36 1244.5V1108.7M842.26 1244.5V1103.7M852.02 1244.5V1103.7M852.92 1244.5V1136.2M862.67 1244.5V1136.2M863.57 1244.5V1127.4M873.32 1244.5V1127.4M874.22 1244.5V1157.7M883.97 1244.5V1157.7M884.87 1244.5V1152.7M894.62 1244.5V1152.7M895.52 1244.5V1161.1M905.28 1244.5V1161.1M906.18 1244.5V1177.9M915.93 1244.5V1177.9M916.83 1244.5V1185.8M926.58 1244.5V1185.8M927.48 1244.5V1181.3M937.23 1244.5V1181.3M938.13 1244.5V1191.4M947.88 1244.5V1191.4M948.78 1244.5V1199.2M958.54 1244.5V1199.2M959.44 1244.5V1203.7M969.19 1244.5V1203.7M970.09 1244.5V1210.4M979.84 1244.5V1210.4M980.74 1244.5V1207.6M990.49 1244.5V1207.6M991.39 1244.5V1221.6M1001.15 1244.5V1221.6M1002.05 1244.5V1222.7M1011.8 1244.5V1222.7M1012.7 1244.5V1223.9M1022.45 1244.5V1223.9M1023.35 1244.5V1224.4M1033.1 1244.5V1224.4M1034 1244.5V1226.7M1043.75 1244.5V1226.7M1044.65 1244.5V1226.9M1054.41 1244.5V1226.9M1055.31 1244.5V1230.4M1065.06 1244.5V1230.4M1065.96 1244.5V1233.7M1075.71 1244.5V1233.7M1076.61 1244.5V1236.4M1086.36 1244.5V1236.4M1087.26 1244.5V1237.4M1097.01 1244.5V1237.4M1097.91 1244.5V1239.1M1107.67 1244.5V1239.1" fill="none" stroke="#0b3328" stroke-width="3.3"/>
<path d="M308.01 1194.35H321.06M318.66 1151.05H331.71M329.31 1123.55H342.36M339.96 1112.15H353.01M350.61 1112.45H363.67M361.27 1096.75H374.32M371.92 1091.15H384.97M382.57 1083.25H395.62M393.22 1087.75H406.28M403.88 1084.95H416.93M414.53 1075.45H427.58M425.18 1066.45H438.23M435.83 1047.65H448.88M446.48 1017.65H459.54M457.14 1043.55H470.19M467.79 995.75H480.84M478.44 1000.85H491.49M489.09 1027.15H502.14M499.74 1006.45H512.8M510.4 1008.65H523.45M521.05 1003.65H534.1M531.7 973.95H544.75M542.35 965.15H555.41M553.01 994.65H566.06M563.66 959.05H576.71M574.31 967.55H587.36M584.96 948.35H598.01M595.61 935.85H608.67M606.27 951.15H619.32M616.92 961.05H629.97M627.57 945.75H640.62M638.22 951.05H651.27M648.87 972.75H661.93M659.53 948.75H672.58M670.18 956.35H683.23M680.83 966.75H693.88M691.48 962.15H704.54M702.14 978.95H715.19M712.79 1005.85H725.84M723.44 997.45H736.49M734.09 1014.85H747.14M744.74 1030.55H757.8M755.4 1027.75H768.45M766.05 1047.35H779.1M776.7 1054.65H789.75M787.35 1060.95H800.4M798 1062.25H811.06M808.66 1083.55H821.71M819.31 1077.95H832.36M829.96 1109.85H843.01M840.61 1104.85H853.67M851.27 1137.35H864.32M861.92 1128.55H874.97M872.57 1158.85H885.62M883.22 1153.85H896.27M893.87 1162.25H906.93M904.53 1179.05H917.58M915.18 1186.95H928.23M925.83 1182.45H938.88M936.48 1192.55H949.53M947.13 1200.35H960.19M957.79 1204.85H970.84M968.44 1211.55H981.49M979.09 1208.75H992.14M989.74 1222.75H1002.8M1000.4 1223.85H1013.45M1011.05 1225.05H1024.1M1021.7 1225.55H1034.75M1032.35 1227.85H1045.4M1043 1228.05H1056.06M1053.66 1231.55H1066.71M1064.31 1234.85H1077.36M1074.96 1237.55H1088.01M1085.61 1238.55H1098.66M1096.26 1240.25H1109.32" fill="none" stroke="#0b3328" stroke-width="2.3"/>
</g>
<g id="axes"><path d="M240.5 1269V41H1731.8V1269" fill="none" stroke="#000" stroke-width="4.5" stroke-linejoin="miter"/>
<path d="M217 1244.5H1734.05" fill="none" stroke="#000" stroke-width="4.5"/>
<path d="M217 1244.5H240.5M228.5 1184.33H240.5M217 1124.15H240.5M228.5 1063.97H240.5M217 1003.8H240.5M228.5 943.62H240.5M217 883.45H240.5M228.5 823.27H240.5M217 763.1H240.5M228.5 702.92H240.5M217 642.75H240.5M228.5 582.58H240.5M217 522.4H240.5M228.5 462.23H240.5M217 402.05H240.5M228.5 341.88H240.5M217 281.7H240.5M228.5 221.52H240.5M217 161.35H240.5M228.5 101.17H240.5M217 41H240.5M240.5 1244.5V1269M293.76 1244.5V1256M347.02 1244.5V1269M400.28 1244.5V1256M453.54 1244.5V1269M506.8 1244.5V1256M560.06 1244.5V1269M613.33 1244.5V1256M666.59 1244.5V1269M719.85 1244.5V1256M773.11 1244.5V1269M826.37 1244.5V1256M879.63 1244.5V1269M932.89 1244.5V1256M986.15 1244.5V1269M1039.41 1244.5V1256M1092.67 1244.5V1269M1145.93 1244.5V1256M1199.19 1244.5V1269M1252.45 1244.5V1256M1305.71 1244.5V1269M1358.97 1244.5V1256M1412.24 1244.5V1269M1465.5 1244.5V1256M1518.76 1244.5V1269M1572.02 1244.5V1256M1625.28 1244.5V1269M1678.54 1244.5V1256M1731.8 1244.5V1269" fill="none" stroke="#000" stroke-width="4.3"/></g>
<g id="ticklabels" font-family="'Liberation Serif', 'Noto Serif CJK SC', serif" font-size="50" fill="#444444"><text x="98 124 150 175.5" y="1263.3" transform="matrix(1 0 0 1.02 0 -25.27)">0.00</text>
<text x="98 124 150 175.5" y="1142.95" transform="matrix(1 0 0 1.02 0 -22.86)">0.05</text>
<text x="98 124 150 175.5" y="1022.6" transform="matrix(1 0 0 1.02 0 -20.45)">0.10</text>
<text x="98 124 150 175.5" y="902.25" transform="matrix(1 0 0 1.02 0 -18.05)">0.15</text>
<text x="98 124 150 175.5" y="781.9" transform="matrix(1 0 0 1.02 0 -15.64)">0.20</text>
<text x="98 124 150 175.5" y="661.55" transform="matrix(1 0 0 1.02 0 -13.23)">0.25</text>
<text x="98 124 150 175.5" y="541.2" transform="matrix(1 0 0 1.02 0 -10.82)">0.30</text>
<text x="98 124 150 175.5" y="420.85" transform="matrix(1 0 0 1.02 0 -8.42)">0.35</text>
<text x="98 124 150 175.5" y="300.5" transform="matrix(1 0 0 1.02 0 -6.01)">0.40</text>
<text x="98 124 150 175.5" y="180.15" transform="matrix(1 0 0 1.02 0 -3.6)">0.45</text>
<text x="98 124 150 175.5" y="59.8" transform="matrix(1 0 0 1.02 0 -1.2)">0.50</text>
<text x="241.3" y="1327.2" text-anchor="middle" transform="matrix(1 0 0 1.02 0 -26.54)">10</text>
<text x="347.82" y="1327.2" text-anchor="middle" transform="matrix(1 0 0 1.02 0 -26.54)">20</text>
<text x="454.34" y="1327.2" text-anchor="middle" transform="matrix(1 0 0 1.02 0 -26.54)">30</text>
<text x="560.86" y="1327.2" text-anchor="middle" transform="matrix(1 0 0 1.02 0 -26.54)">40</text>
<text x="667.39" y="1327.2" text-anchor="middle" transform="matrix(1 0 0 1.02 0 -26.54)">50</text>
<text x="773.91" y="1327.2" text-anchor="middle" transform="matrix(1 0 0 1.02 0 -26.54)">60</text>
<text x="880.43" y="1327.2" text-anchor="middle" transform="matrix(1 0 0 1.02 0 -26.54)">70</text>
<text x="986.95" y="1327.2" text-anchor="middle" transform="matrix(1 0 0 1.02 0 -26.54)">80</text>
<text x="1093.47" y="1327.2" text-anchor="middle" transform="matrix(1 0 0 1.02 0 -26.54)">90</text>
<text x="1199.99" y="1327.2" text-anchor="middle" transform="matrix(1 0 0 1.02 0 -26.54)">100</text>
<text x="1306.51" y="1327.2" text-anchor="middle" transform="matrix(1 0 0 1.02 0 -26.54)">110</text>
<text x="1413.04" y="1327.2" text-anchor="middle" transform="matrix(1 0 0 1.02 0 -26.54)">120</text>
<text x="1519.56" y="1327.2" text-anchor="middle" transform="matrix(1 0 0 1.02 0 -26.54)">130</text>
<text x="1626.08" y="1327.2" text-anchor="middle" transform="matrix(1 0 0 1.02 0 -26.54)">140</text>
<text x="1732.6" y="1327.2" text-anchor="middle" transform="matrix(1 0 0 1.02 0 -26.54)">150</text></g>
<text id="xtitle" x="986" y="1414.5" text-anchor="middle" font-family="'Liberation Serif', serif" font-weight="bold" font-size="62.6" fill="#000">Size of Inclusion(μm)</text>
<text id="ytitle" transform="translate(72.4 641.9) rotate(-90)" text-anchor="middle" font-family="'Liberation Serif', serif" font-weight="bold" font-size="62.6" fill="#000">Concentration(k/kg)</text>
<g id="legend" font-family="'Liberation Serif', serif" font-size="50.5" fill="#000"><rect x="1298.9" y="74.5" width="114.4" height="55.5" fill="#4c44c4" stroke="#2c2a78" stroke-width="2"/>
<text x="1428.5" y="119.9">Post-SNIF</text>
<rect x="1298.9" y="139.4" width="114.4" height="55.5" fill="#ffa347" stroke="#8a4f1c" stroke-width="2"/>
<text x="1428.5" y="183.2">Post-CFF</text>
<rect x="1298.9" y="202.8" width="114.4" height="55.5" fill="#46a0a6" stroke="#356e6e" stroke-width="2"/>
<text x="1428.5" y="246.5">Post-MCF</text></g>
</g>
</svg>
</body>
</html>
